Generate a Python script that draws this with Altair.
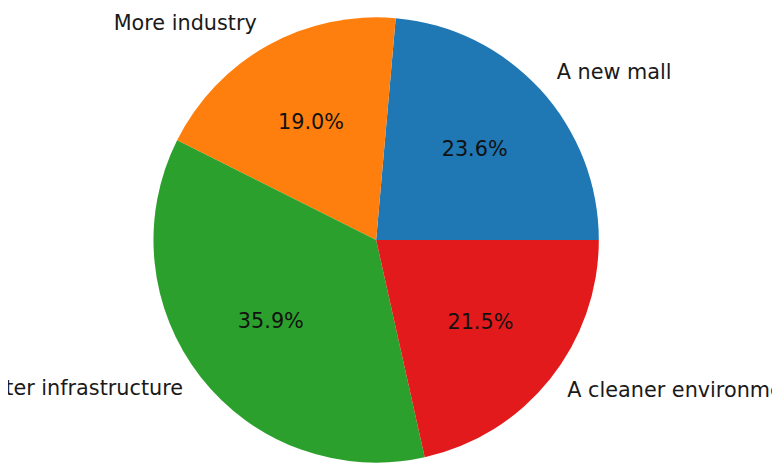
import math
import altair as alt
import pandas as pd

labels = ["A new mall", "More industry", "Better infrastructure", "A cleaner environment"]
shares = [23.6, 19.0, 35.9, 21.5]
pct_labels = ["23.6%", "19.0%", "35.9%", "21.5%"]
colors = ["#1f77b4", "#ff7f0e", "#2ca02c", "#e31a1c"]

df = pd.DataFrame({"label": labels, "share": shares, "pct": pct_labels, "idx": list(range(len(labels)))})

CX, CY, R = 372, 232, 225
FONT = "DejaVu Sans"
theta_scale = alt.Scale(domain=[0, 100], range=[math.pi / 2, math.pi / 2 + 2 * math.pi])
color = alt.Color("label:N", scale=alt.Scale(domain=labels, range=colors), legend=None)

base = alt.Chart(df)

pie = base.mark_arc(outerRadius=R).encode(
    theta=alt.Theta("share:Q", stack=True, scale=theta_scale),
    color=color,
    order=alt.Order("idx:Q", sort="descending"),
    x=alt.value(CX),
    y=alt.value(CY),
)

txt = base.transform_window(
    cum="sum(share)", sort=[alt.SortField("idx", order="descending")]
).transform_calculate(
    mid="datum.cum - datum.share / 2"
).transform_calculate(
    right="sin(PI / 2 + 2 * PI * datum.mid / 100) > 0"
)

tenc = dict(
    theta=alt.Theta("mid:Q", stack=None, scale=theta_scale),
    x=alt.value(CX),
    y=alt.value(CY),
)

out_right = txt.transform_filter("datum.right").mark_text(
    radius=R * 1.1, align="left", baseline="middle", dy=-2, fontSize=21, font=FONT, color="#1a1a1a"
).encode(text="label:N", **tenc)

out_left = txt.transform_filter("!datum.right").mark_text(
    radius=R * 1.1, align="right", baseline="middle", dy=-2, fontSize=21, font=FONT, color="#1a1a1a"
).encode(text="label:N", **tenc)

inner = txt.mark_text(
    radius=R * 0.6, align="center", baseline="middle", fontSize=21, font=FONT, color="#111111"
).encode(text="pct:N", **tenc)

chart = alt.layer(pie, out_right, out_left, inner).properties(
    width=772, height=458, padding=0, autosize=alt.AutoSizeParams(type="none")
).configure_view(stroke=None)

chart.save("out.html", embed_options={"renderer": "svg", "actions": False})
